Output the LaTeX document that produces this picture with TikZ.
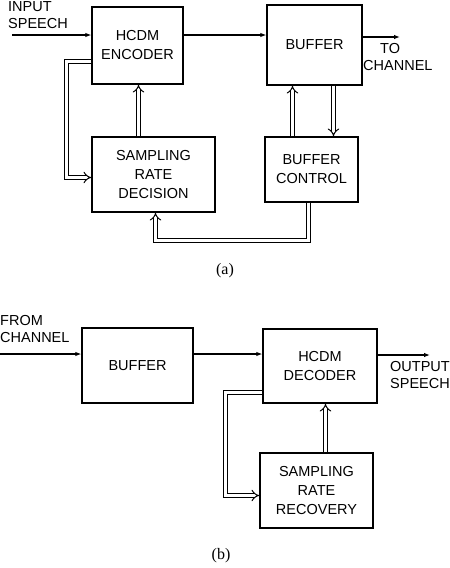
\documentclass[tikz,border=0pt]{standalone}
\usepackage{fontspec}
\setmainfont{Liberation Sans}
\newfontfamily\capfont{Liberation Serif}
\usetikzlibrary{arrows.meta}
\tikzset{
  blk/.style={draw,line width=1.4pt,align=center,inner sep=0pt,font=\fontsize{14.5}{19}\selectfont},
  sig/.style={line width=1.1pt,-{Latex[length=6pt,width=4.5pt]}},
  dbl/.style={double,double distance=3pt,line width=1pt,-{Implies}},
  lbl/.style={align=left,inner sep=0pt,font=\fontsize{14.5}{17}\selectfont},
  figcap/.style={inner sep=0pt,font=\capfont\fontsize{16}{18}\selectfont}
}
\begin{document}
\begin{tikzpicture}[x=1pt,y=-1pt]
  \useasboundingbox (0,0) rectangle (450,568);
  % (a) coder side
  \node[blk,minimum width=91pt,minimum height=77pt] (enc) at (137.5,45.5) {HCDM\\ENCODER};
  \node[blk,minimum width=95pt,minimum height=80pt] (buf) at (314.5,45) {BUFFER};
  \node[blk,minimum width=93pt,minimum height=65pt] (bctl) at (311.5,169.5) {BUFFER\\CONTROL};
  \node[blk,minimum width=123pt,minimum height=75pt] (srd) at (153.5,174.5) {SAMPLING\\RATE\\DECISION};
  \node[lbl,anchor=north west] (inlbl) at (8,1) {INPUT\\SPEECH};
  \node[lbl,anchor=north west] (tolbl) at (363,43) {\hspace*{17pt}TO\\CHANNEL};
  \coordinate (inA) at (12,35);
  \coordinate (outA) at (400,37);
  \draw[sig] (inA) -- (inA -| enc.west);
  \draw[sig] (enc.east |- inA) -- (buf.west |- inA);
  \draw[sig] (outA -| buf.east) -- (outA);
  \coordinate (ea) at (138.5,0);
  \draw[dbl] (ea |- srd.north) -- (ea |- enc.south);
  \coordinate (fa1) at (66.5,61.5); \coordinate (fa2) at (66.5,177.5);
  \draw[dbl] (fa1 -| enc.west) -- (fa1) -- (fa2) -- (fa2 -| srd.west);
  \coordinate (bu) at (292.5,0); \coordinate (bd) at (333.5,0);
  \draw[dbl] (bu |- bctl.north) -- (bu |- buf.south);
  \draw[dbl] (bd |- buf.south) -- (bd |- bctl.north);
  \coordinate (ra1) at (308.5,240.5); \coordinate (ra2) at (155.5,240.5);
  \draw[dbl] (ra1 |- bctl.south) -- (ra1) -- (ra2) -- (ra2 |- srd.south);
  \node[figcap] (capa) at (225,271) {(a)};
  % (b) decoder side
  \node[blk,minimum width=111pt,minimum height=75pt] (buf2) at (137.5,365.5) {BUFFER};
  \node[blk,minimum width=114pt,minimum height=74pt] (dec) at (320,366) {HCDM\\DECODER};
  \node[blk,minimum width=113pt,minimum height=75pt] (srr) at (316.5,490.5) {SAMPLING\\RATE\\RECOVERY};
  \node[lbl,anchor=north west] (fromlbl) at (0,315) {FROM\\CHANNEL};
  \node[lbl,anchor=north west] (outlbl) at (390,361) {OUTPUT\\SPEECH};
  \coordinate (inB) at (0,354);
  \coordinate (outB) at (430,355);
  \draw[sig] (inB) -- (inB -| buf2.west);
  \draw[sig] (buf2.east |- inB) -- (dec.west |- inB);
  \draw[sig] (outB -| dec.east) -- (outB);
  \coordinate (rb) at (325.5,0);
  \draw[dbl] (rb |- srr.north) -- (rb |- dec.south);
  \coordinate (fb1) at (225.5,392.5); \coordinate (fb2) at (225.5,495.5);
  \draw[dbl] (fb1 -| dec.west) -- (fb1) -- (fb2) -- (fb2 -| srr.west);
  \node[figcap] (capb) at (221,556) {(b)};
\end{tikzpicture}
\end{document}
